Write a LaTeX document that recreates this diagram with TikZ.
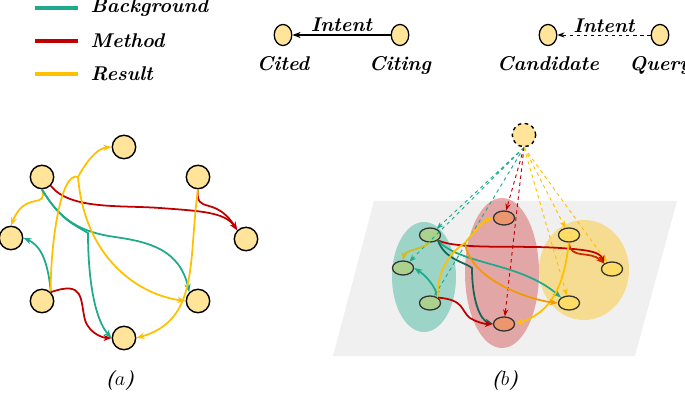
\documentclass[tikz,border=0pt]{standalone}
\usepackage{tikz}
\usetikzlibrary{calc,shapes,arrows.meta,positioning}
\definecolor{bgc}{RGB}{32,170,140}
\definecolor{mtc}{RGB}{192,0,0}
\definecolor{rsc}{RGB}{255,192,0}
\definecolor{ndc}{RGB}{255,228,153}
\definecolor{gnc}{RGB}{170,210,140}
\definecolor{orc}{RGB}{235,150,110}
\definecolor{ylc}{RGB}{255,220,100}
\tikzset{
  pnode/.style={circle,draw=black,line width=1.2pt,fill=ndc,minimum size=20pt,inner sep=0pt},
  snode/.style={ellipse,draw=black!80,line width=1.1pt,minimum width=18pt,minimum height=12pt,inner sep=0pt},
  lnode/.style={ellipse,draw=black,line width=1.1pt,fill=ndc,minimum width=15pt,minimum height=18pt,inner sep=0pt},
  txt/.style={font=\bfseries\itshape\fontsize{17}{20}\selectfont},
  bg/.style={bgc,line width=1.5pt,-{Stealth[length=7pt]}},
  mt/.style={mtc,line width=1.5pt,-{Stealth[length=7pt]}},
  rs/.style={rsc,line width=1.5pt,-{Stealth[length=7pt]}},
  dsh/.style={dashed,thick,-{Stealth[length=6pt]}}
}
\begin{document}
\begin{tikzpicture}[x=0.03cm,y=-0.03cm]
	\useasboundingbox (0,0) rectangle (685,404);
	% legend
	\draw[bgc,line width=3pt] (35,8) -- (78,8) node[txt,black,right=6pt] {Background};
	\draw[mtc,line width=3pt] (35,41) -- (78,41) node[txt,black,right=6pt] {Method};
	\draw[rsc,line width=3pt] (35,74) -- (78,74) node[txt,black,right=6pt] {Result};
	\node[lnode] (cited) at (283,35) {};
	\node[lnode] (citing) at (400,35) {};
	\draw[line width=2.2pt,-{Stealth[length=7pt]}] (citing) -- node[txt,above=-2pt] {Intent} (cited);
	\node[txt,below=5pt of cited] {Cited};
	\node[txt,below=5pt of citing] {Citing};
	\node[lnode] (cand) at (548,35) {};
	\node[lnode] (query) at (660,35) {};
	\draw[dsh] (query) -- node[txt,above=-2pt] {Intent} (cand);
	\node[txt,below=5pt of cand] {Candidate};
	\node[txt,below=5pt of query] {Query};

	% (a)
	\node[pnode] (a1) at (42,177) {};
	\node[pnode] (a2) at (124,147) {};
	\node[pnode] (a3) at (198,177) {};
	\node[pnode] (a4) at (11,238) {};
	\node[pnode] (a5) at (246,239) {};
	\node[pnode] (a6) at (42,301) {};
	\node[pnode] (a7) at (198,301) {};
	\node[pnode] (a8) at (124,338) {};
	\draw[mt] (a1.south east) .. controls (70,210) and (120,205) .. (160,208) .. controls (200,211) and (225,212) .. (a5.north west);
	\draw[rs] (a1.south) .. controls (48,210) and (25,190) .. (a4.north);
	\draw[bg] (a1.south) .. controls (60,220) and (80,232) .. (115,237) .. controls (150,242) and (180,250) .. (a7.north west);
	\draw[bg] (a1.south) .. controls (60,220) and (75,225) .. (88,233) .. controls (88,280) and (95,320) .. (a8.west);
	\draw[mt] (a3.south) .. controls (195,215) and (215,195) .. (a5.north west);
	\draw[rs] (a3.south) .. controls (188,260) and (200,320) .. (a8.east);
	\draw[bg] (a6.north east) .. controls (48,260) and (40,245) .. (a4.east);
	\coordinate (ya) at (78,177);
	\draw[rs] (a6.north east) .. controls (50,250) and (60,170) .. (ya) .. controls (90,155) and (100,148) .. (a2.west);
	\draw[rs] (ya) .. controls (85,260) and (140,295) .. (a7.west);
	\draw[mt] (a6.north east) .. controls (85,280) and (80,300) .. (85,320) .. controls (90,335) and (105,338) .. (a8.west);
	\node[txt] (capa) at (120,381) {($a$)};

	% (b)
	\fill[black!6] (374,201) -- (677,201) -- (635,356) -- (333,356) -- cycle;
	\fill[bgc,opacity=.4] (424,277) ellipse (32 and 55);
	\fill[mtc!70,opacity=.45] (502,273) ellipse (37 and 75);
	\fill[rsc,opacity=.4] (584,270) ellipse (45 and 50);
	\node[pnode,dashed,minimum size=20pt] (q) at (524,135) {};
	\node[snode,fill=gnc] (b1) at (430,235) {};
	\node[snode,fill=orc] (b2) at (504,218) {};
	\node[snode,fill=ylc] (b3) at (569,235) {};
	\node[snode,fill=gnc] (b4) at (403,268) {};
	\node[snode,fill=ylc] (b5) at (612,269) {};
	\node[snode,fill=gnc] (b6) at (430,303) {};
	\node[snode,fill=ylc] (b7) at (569,303) {};
	\node[snode,fill=orc] (b8) at (504,324) {};
	\foreach \n/\c in {b1/bgc,b4/bgc,b6/bgc,b2/mtc,b8/mtc,b3/rsc,b5/rsc,b7/rsc}
		\draw[dsh,\c] (q.south) -- (\n);
	\draw[mt] (b1.south east) .. controls (460,250) and (520,245) .. (560,248) .. controls (590,250) and (600,252) .. (b5.north west);
	\draw[rs,rsc!80!bgc] (b1.south) .. controls (420,250) and (405,250) .. (b4.north);
	\draw[bg] (b1.south east) .. controls (460,265) and (520,262) .. (b7.north west);
	\draw[bg,bgc!60!black] (b1.south east) .. controls (445,260) and (465,262) .. (472,268) .. controls (472,300) and (480,320) .. (b8.west);
	\draw[mt,mtc!80!rsc] (b3.south) .. controls (570,260) and (590,250) .. (b5.north west);
	\draw[rs] (b3.south) .. controls (565,270) and (560,310) .. (b8.east);
	\draw[bg] (b6.north east) .. controls (435,285) and (425,275) .. (b4.east);
	\coordinate (yb) at (465,243);
	\draw[rs] (b6.north east) .. controls (436,280) and (445,255) .. (yb) .. controls (475,230) and (485,220) .. (b2.west);
	\draw[rs,rsc!80!mtc] (yb) .. controls (470,280) and (530,300) .. (b7.west);
	\draw[mt] (b6.north east) .. controls (465,300) and (460,310) .. (470,318) .. controls (480,324) and (488,324) .. (b8.west);
	\node[txt] (capb) at (505,381) {($b$)};
\end{tikzpicture}
\end{document}
